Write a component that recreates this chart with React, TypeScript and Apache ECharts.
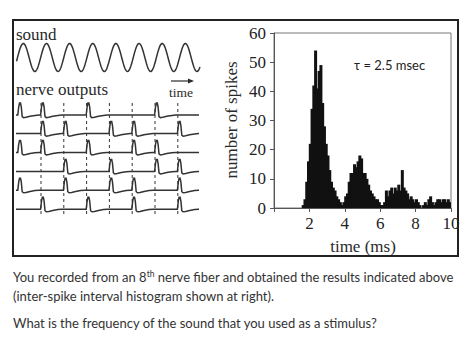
import React, { useEffect, useRef } from "react";
import * as echarts from "echarts";

// Inter-spike interval histogram: counts per 0.1 ms bin, from 0.0 ms to 10.0 ms
const spikeCounts: number[] = [
  0, 0, 0, 0, 0, 0, 0, 0, 0, 0,
  0, 0, 0, 0, 0, 0, 1, 3, 9, 16,
  22, 34, 42, 54, 41, 47, 49, 36, 28, 22,
  18, 13, 9, 7, 6, 4, 3, 2, 1, 2,
  4, 5, 9, 12, 12, 15, 14, 16, 18, 17,
  12, 12, 10, 8, 6, 5, 4, 3, 3, 2,
  1, 1, 2, 6, 4, 6, 7, 5, 7, 6,
  8, 6, 13, 7, 6, 5, 3, 4, 3, 2,
  3, 2, 1, 0, 1, 2, 1, 3, 4, 2,
  1, 2, 3, 3, 2, 3, 3, 2, 3, 2,
];
const binLabels: string[] = spikeCounts.map((_, i) => (i / 10).toFixed(1));
const xTicks = [0, 2, 4, 6, 8, 10];
const yTicks = [0, 10, 20, 30, 40, 50, 60];

// Which sound cycles (0..7) each nerve-output row fires on
const spikeRows: number[][] = [
  [0, 1, 3, 6],
  [1, 2, 4, 5, 7],
  [0, 1, 3, 5, 6],
  [2, 4, 6, 7],
  [0, 2, 4, 5, 7],
  [1, 3, 5, 7],
];
const cycles = 8;

const tauLabel = "τ = 2.5 msec";
const yName = "number of spikes";
const xName = "time (ms)";

const SERIF = '"Liberation Serif", "Times New Roman", serif';
const SANS = 'Lato, "Open Sans", sans-serif';

function buildGraphics(): any[] {
  const g: any[] = [];
  const ink = "#2a2a2a";
  // left-panel labels
  g.push({ type: "text", x: 16, y: 34, style: { text: "sound", fontFamily: SERIF, fontSize: 17, fill: ink, verticalAlign: "middle" } });
  g.push({ type: "text", x: 16, y: 89, style: { text: "nerve outputs", fontFamily: SERIF, fontSize: 17, fill: ink, verticalAlign: "middle" } });
  g.push({ type: "text", x: 181, y: 92, style: { text: "time", fontFamily: SERIF, fontSize: 13.5, fill: ink, align: "center", verticalAlign: "middle" } });
  g.push({ type: "line", shape: { x1: 171, y1: 81, x2: 190, y2: 81 }, style: { stroke: ink, lineWidth: 1.2 } });
  g.push({ type: "polygon", shape: { points: [[194, 81], [188, 78.5], [188, 83.5]] }, style: { fill: ink } });

  // sine stimulus illustration
  const period = 23.15;
  const pts: number[][] = [];
  for (let x = 16.5; x <= 200; x += 0.5) {
    pts.push([x, 57.5 - 14 * Math.cos((2 * Math.PI * (x - 23.3)) / period)]);
  }
  g.push({ type: "polyline", shape: { points: pts }, style: { stroke: "#333", lineWidth: 1.5, fill: null } });

  // spike trains
  const baselines = [115, 133.6, 152.4, 171.4, 190.2, 209.2];
  const spikeX = (k: number) => 20 + k * 22.8;
  spikeRows.forEach((row, r) => {
    const b = baselines[r];
    const p: number[][] = [[16, b]];
    row.forEach((k) => {
      const px = spikeX(k);
      p.push([px - 2.2, b], [px - 1.3, b - 8], [px - 0.5, b - 12], [px + 0.5, b - 12], [px + 1.3, b - 8], [px + 2.2, b + 1.5], [px + 3.5, b + 2.6], [px + 6, b + 2.2], [px + 10, b + 1.2], [px + 15, b + 0.4], [px + 19, b]);
    });
    p.push([199, b]);
    g.push({ type: "polyline", shape: { points: p }, style: { stroke: "#333", lineWidth: 1.5, fill: null } });
  });
  for (let k = 1; k < cycles; k++) {
    const x = spikeX(k) - 1.8;
    g.push({ type: "line", shape: { x1: x, y1: 103, x2: x, y2: 217 }, style: { stroke: "#333", lineWidth: 1, lineDash: [3, 3] } });
  }

  // right-panel labels
  g.push({ type: "text", x: 231, y: 120, rotation: Math.PI / 2, style: { text: yName, fontFamily: SERIF, fontSize: 17, fill: ink, align: "center", verticalAlign: "middle" } });
  g.push({ type: "text", x: 363, y: 246, style: { text: xName, fontFamily: SERIF, fontSize: 17, fill: ink, align: "center", verticalAlign: "middle" } });
  g.push({ type: "text", x: 354, y: 65, style: { text: tauLabel, fontFamily: SANS, fontSize: 13, fill: "#222", verticalAlign: "middle" } });

  // outer frame
  g.push({ type: "rect", z: 100, shape: { x: 13, y: 20, width: 445, height: 236 }, style: { fill: "transparent", stroke: "#222", lineWidth: 2 } });

  // question text
  const qc = "#333";
  g.push({
    type: "text", x: 13, y: 277,
    style: {
      text: "You recorded from an 8{sup|th} nerve fiber and obtained the results indicated above",
      fontFamily: SANS, fontSize: 13, fill: qc, verticalAlign: "middle",
      rich: { sup: { fontFamily: SANS, fontSize: 8.5, fill: qc, verticalAlign: "top", padding: [0, 0, 6, 0] } },
    },
  });
  g.push({ type: "text", x: 13, y: 296, style: { text: "(inter-spike interval histogram shown at right).", fontFamily: SANS, fontSize: 13, fill: qc, verticalAlign: "middle" } });
  g.push({ type: "text", x: 13, y: 323, style: { text: "What is the frequency of the sound that you used as a stimulus?", fontFamily: SANS, fontSize: 13, fill: qc, verticalAlign: "middle" } });
  return g;
}

export default function App() {
  const ref = useRef<HTMLDivElement>(null);
  useEffect(() => {
    if (!ref.current) return;
    const chart = echarts.init(ref.current, undefined, { renderer: "svg" });
    chart.setOption({
      animation: false,
      backgroundColor: "#ffffff",
      grid: { left: 274, right: 23, top: 33, bottom: 148, show: true, borderColor: "#777", borderWidth: 1, containLabel: false },
      xAxis: [
        {
          type: "value", min: xTicks[0], max: xTicks[xTicks.length - 1], interval: 2,
          axisLine: { show: true, lineStyle: { color: "#555", width: 1 } },
          axisTick: { show: true, length: 4, lineStyle: { color: "#555" } },
          axisLabel: { fontFamily: SERIF, fontSize: 17, color: "#222", margin: 7, formatter: (v: number) => (v === 0 ? "" : String(v)) },
          splitLine: { show: false },
        },
        { type: "category", data: binLabels, show: false, boundaryGap: true },
      ],
      yAxis: {
        type: "value", min: yTicks[0], max: yTicks[yTicks.length - 1], interval: 10,
        axisLine: { show: true, lineStyle: { color: "#555", width: 1 } },
        axisTick: { show: true, length: 4, lineStyle: { color: "#555" } },
        axisLabel: { fontFamily: SERIF, fontSize: 17, color: "#222", margin: 8 },
        splitLine: { show: false },
      },
      series: [
        {
          type: "bar", xAxisIndex: 1, data: spikeCounts, barWidth: 3,
          itemStyle: { color: "#111" },
        },
      ],
      graphic: buildGraphics(),
    });
    return () => chart.dispose();
  }, []);
  return <div ref={ref} style={{ position: "fixed", left: 0, top: 0, width: 474, height: 356, background: "#fff" }} />;
}
